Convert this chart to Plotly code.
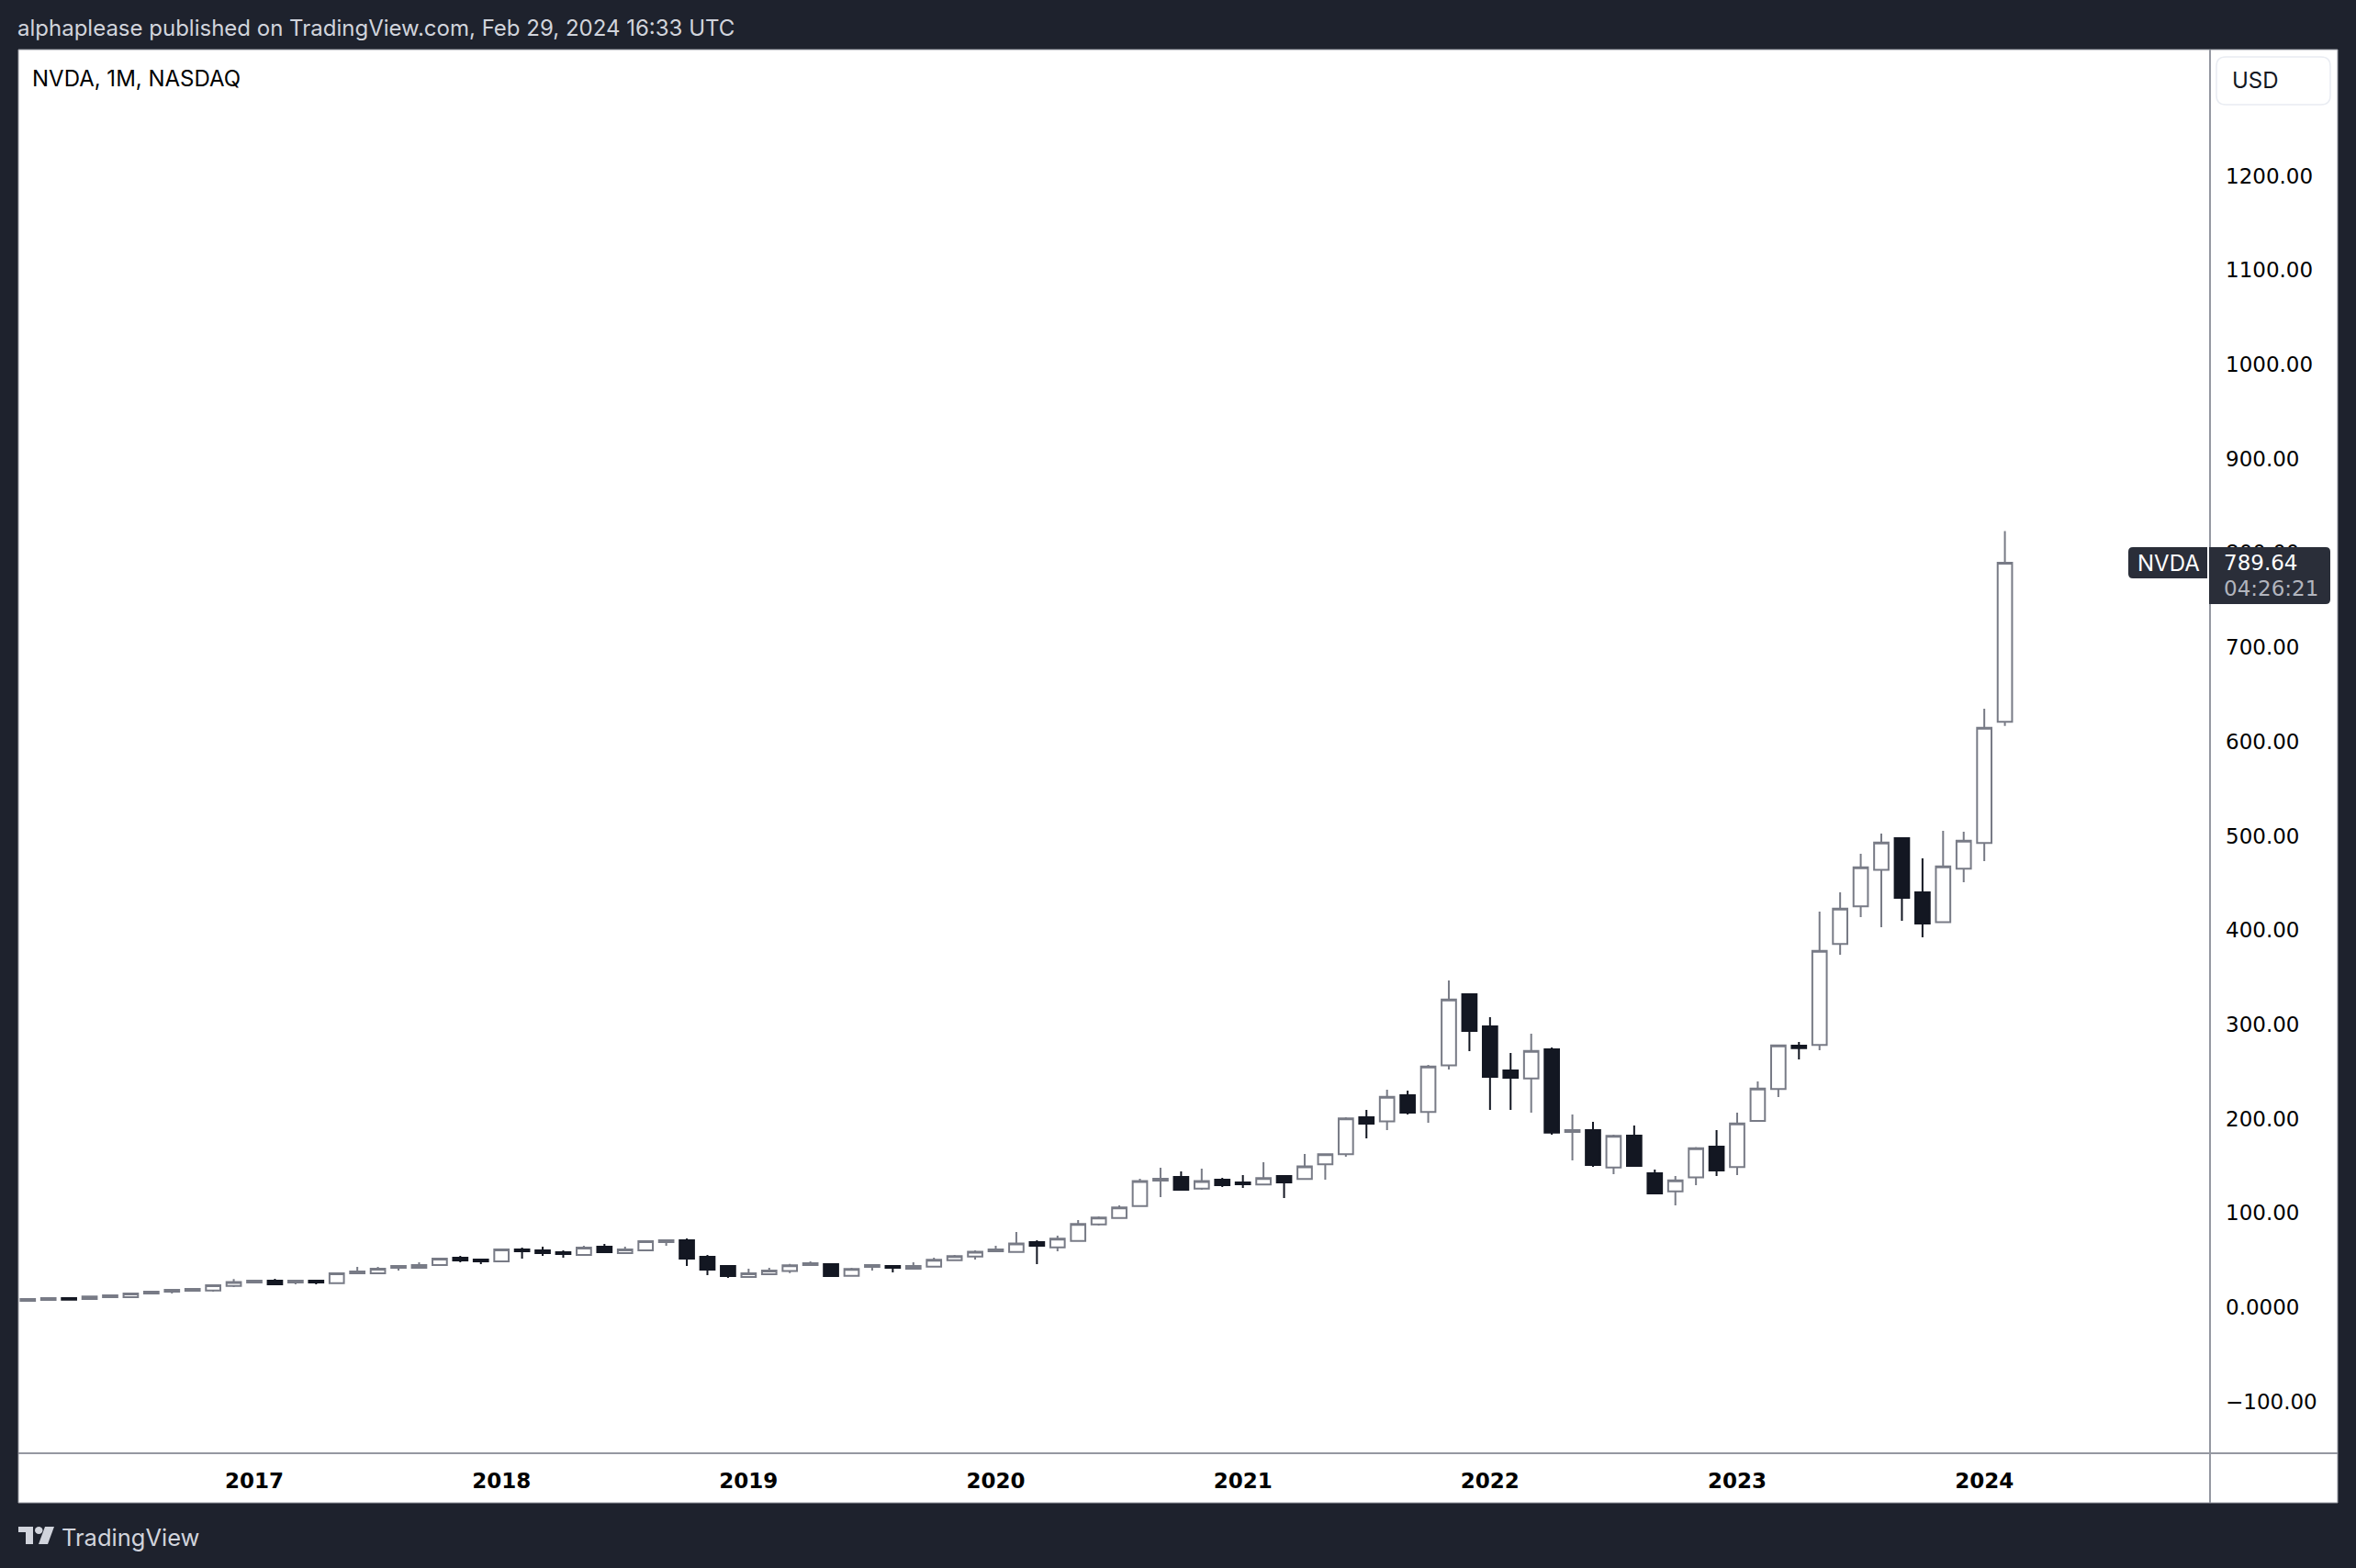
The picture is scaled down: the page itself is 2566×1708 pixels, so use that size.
import pandas as pd
import plotly.graph_objects as go

# chart is 2566x1708, everything outside the price pane is placed in pixels
W = 2566
H = 1708
BG = "#1e222d"
UP = "#787b86"
DOWN = "#131722"
LINE = "#9598a1"
TAG = "#2a2e39"

PANE_L, PANE_R, PANE_T, PANE_B = 20, 2407, 54, 1583
OUTER_R, OUTER_B = 2546, 1637

months = pd.date_range("2016-02-01", "2024-02-01", freq="MS").strftime("%Y-%m").tolist()

opens = [6.8, 7.8, 9.7, 8.8, 10.7, 10.7, 14.6, 16.6, 17.5, 17.9, 22.7, 26.3,
         28.2, 26.3, 28.2, 25.6, 36.0, 36.0, 41.9, 41.9, 44.8, 52.6, 50.6, 48.7,
         61.3, 60.4, 58.4, 55.5, 64.3, 57.4, 60.4, 69.1, 71.1, 53.6, 43.8, 32.1,
         35.0, 38.6, 44.8, 45.8, 33.4, 42.8, 43.8, 40.9, 43.2, 50.0, 53.9, 59.4,
         58.7, 69.1, 63.6, 70.4, 88.0, 94.8, 107.4, 134.4, 138.3, 125.9, 135.3, 132.4,
         130.2, 139.2, 136.0, 151.6, 162.3, 201.6, 197.3, 224.9, 207.1, 256.7, 332.0, 298.0,
         251.2, 242.8, 273.6, 186.0, 187.9, 148.3, 182.1, 142.2, 123.0, 137.9, 170.4, 148.7,
         197.7, 231.4, 277.5, 278.2, 385.3, 425.2, 464.1, 497.6, 440.1, 408.6, 465.1, 492.4,
         620.9]
highs = [8.8, 9.7, 9.7, 11.4, 12.7, 14.6, 16.6, 18.5, 19.5, 24.3, 29.9, 28.2,
         30.2, 28.2, 28.2, 37.0, 42.8, 42.8, 43.8, 47.7, 52.6, 54.5, 50.6, 62.3,
         63.3, 64.3, 60.4, 65.2, 67.2, 64.3, 71.1, 71.1, 73.0, 55.5, 43.8, 40.9,
         41.9, 46.0, 48.7, 46.7, 41.9, 44.8, 43.8, 47.7, 52.6, 55.5, 60.4, 65.2,
         79.8, 71.1, 75.9, 92.5, 96.4, 108.1, 136.3, 148.0, 144.1, 147.0, 137.3, 140.2,
         153.8, 139.2, 162.6, 162.3, 201.6, 209.4, 230.8, 229.8, 257.0, 346.6, 333.0, 307.7,
         269.7, 290.2, 275.6, 204.5, 196.7, 183.0, 192.8, 146.0, 139.2, 170.0, 187.9, 206.4,
         239.5, 277.8, 281.4, 419.7, 440.1, 481.0, 502.4, 498.5, 476.1, 505.3, 504.4, 634.9,
         823.4]
lows = [6.8, 7.8, 8.1, 8.8, 10.7, 10.7, 14.6, 14.6, 16.6, 16.6, 21.4, 25.3,
        24.3, 24.3, 24.3, 25.6, 36.0, 35.0, 38.9, 40.9, 44.8, 47.7, 45.8, 48.7,
        51.6, 54.5, 52.6, 55.5, 58.4, 57.4, 60.4, 65.2, 43.8, 34.1, 31.2, 32.1,
        35.0, 36.4, 43.8, 33.1, 33.4, 38.9, 37.0, 40.9, 43.2, 50.0, 50.6, 58.4,
        58.7, 45.8, 59.4, 70.4, 86.7, 94.8, 107.4, 116.8, 123.7, 124.6, 127.6, 126.6,
        130.2, 115.9, 136.0, 135.3, 159.7, 179.2, 187.9, 204.5, 195.7, 252.2, 271.7, 209.3,
        209.3, 206.4, 183.1, 155.8, 149.0, 141.2, 150.0, 119.8, 108.1, 129.5, 139.2, 140.2,
        197.7, 223.0, 262.9, 272.6, 373.9, 413.8, 403.1, 409.9, 392.4, 408.6, 450.8, 473.2,
        616.7]
closes = [8.8, 9.7, 8.1, 11.4, 12.7, 14.6, 16.6, 18.5, 19.5, 23.4, 26.9, 28.2,
          24.3, 28.2, 26.3, 36.0, 38.0, 40.9, 43.8, 44.8, 51.6, 49.7, 48.7, 61.3,
          59.4, 57.4, 56.5, 63.3, 58.4, 61.3, 70.1, 71.1, 51.6, 39.9, 33.1, 36.0,
          38.9, 44.5, 46.7, 33.1, 40.6, 44.8, 41.9, 43.8, 50.3, 54.2, 59.0, 61.3,
          67.8, 65.2, 72.7, 88.3, 95.1, 105.8, 134.0, 136.3, 124.6, 134.0, 129.5, 130.5,
          137.0, 132.4, 149.6, 162.3, 200.3, 194.7, 223.3, 206.4, 255.4, 326.5, 293.1, 244.4,
          243.4, 272.0, 185.3, 188.0, 150.9, 181.8, 150.0, 120.7, 134.7, 168.8, 145.1, 195.0,
          232.0, 277.8, 274.9, 378.1, 422.9, 466.7, 493.0, 434.3, 407.0, 467.7, 495.0, 614.7,
          789.64]

year_ticks = ["2017-01", "2018-01", "2019-01", "2020-01", "2021-01", "2022-01", "2023-01", "2024-01"]
year_labels = ["2017", "2018", "2019", "2020", "2021", "2022", "2023", "2024"]
price_ticks = [-100, 0, 100, 200, 300, 400, 500, 600, 700, 800, 900, 1000, 1100, 1200]
price_labels = ["\u2212100.00", "0.0000", "100.00", "200.00", "300.00", "400.00", "500.00",
                "600.00", "700.00", "800.00", "900.00", "1000.00", "1100.00", "1200.00"]


def px(x):
    return x / W


def py(y):
    return 1 - y / H


def rect(x0, y0, x1, y1, fill, line=None, width=0, layer="above"):
    return dict(type="rect", xref="paper", yref="paper", x0=px(x0), x1=px(x1), y0=py(y0), y1=py(y1),
                fillcolor=fill, line=dict(color=line or fill, width=width), layer=layer)


def rounded(x0, y0, x1, y1, rl, rr, fill, line=None, width=0):
    # plotly has no rounded rect, so draw the outline as a path (rl = left corners, rr = right corners)
    pts = [
        f"M {px(x0 + rl)} {py(y0)}",
        f"L {px(x1 - rr)} {py(y0)}",
        f"Q {px(x1)} {py(y0)} {px(x1)} {py(y0 + rr)}",
        f"L {px(x1)} {py(y1 - rr)}",
        f"Q {px(x1)} {py(y1)} {px(x1 - rr)} {py(y1)}",
        f"L {px(x0 + rl)} {py(y1)}",
        f"Q {px(x0)} {py(y1)} {px(x0)} {py(y1 - rl)}",
        f"L {px(x0)} {py(y0 + rl)}",
        f"Q {px(x0)} {py(y0)} {px(x0 + rl)} {py(y0)} Z",
    ]
    return dict(type="path", xref="paper", yref="paper", path=" ".join(pts), fillcolor=fill,
                line=dict(color=line or fill, width=width), layer="above")


def poly(points, fill):
    d = "M " + " L ".join(f"{px(x)} {py(y)}" for x, y in points) + " Z"
    return dict(type="path", xref="paper", yref="paper", path=d, fillcolor=fill,
                line=dict(color=fill, width=0), layer="above")


def label(x, y, text, size, color, family="Inter"):
    return dict(xref="paper", yref="paper", x=px(x), y=py(y), text=text, showarrow=False,
                xanchor="left", yanchor="middle", borderpad=0,
                font=dict(family=family, size=size, color=color))


fig = go.Figure(go.Candlestick(
    x=months, open=opens, high=highs, low=lows, close=closes,
    increasing=dict(line=dict(color=UP, width=2), fillcolor="#ffffff"),
    decreasing=dict(line=dict(color=DOWN, width=2), fillcolor=DOWN),
    whiskerwidth=0,
    hoverinfo="skip",
))

shapes = [
    rect(PANE_L, PANE_T, OUTER_R, OUTER_B, "#ffffff", LINE, 1, layer="below"),
    rect(PANE_R - 1, PANE_T, PANE_R + 1, OUTER_B, LINE),
    rect(PANE_L, PANE_B - 1, OUTER_R, PANE_B + 1, LINE),
    rounded(2414, 62, 2538, 114, 10, 10, "#ffffff", "#e9ecf2", 1.5),
    rounded(2318, 596, 2404, 630, 5, 0, TAG),
    rounded(2406, 596, 2538, 658, 0, 5, TAG),
    # TradingView logo
    poly([(20, 1663), (36, 1663), (36, 1682), (28, 1682), (28, 1669), (20, 1669)], "#d1d4dc"),
    dict(type="circle", xref="paper", yref="paper", x0=px(38), x1=px(46.5), y0=py(1663), y1=py(1671),
         fillcolor="#d1d4dc", line=dict(width=0), layer="above"),
    poly([(49, 1663), (59, 1663), (52, 1682), (42, 1682)], "#d1d4dc"),
]

annotations = [
    label(18, 31, "alphaplease published on TradingView.com, Feb 29, 2024 16:33 UTC", 24, "#d1d4dc"),
    label(34, 85, "NVDA, 1M, NASDAQ", 24, "#000000"),
    label(2430, 87, "USD", 24, DOWN),
    label(2327, 613, "NVDA", 24, "#ffffff"),
    label(2421, 613, "789.64", 23, "#ffffff", "DejaVu Sans"),
    label(2421, 641, "04:26:21", 23, "#b2b5be", "DejaVu Sans"),
    label(66, 1674, "TradingView", 25.5, "#d1d4dc"),
]

fig.update_layout(
    width=W,
    height=H,
    margin=dict(l=0, r=0, t=0, b=0),
    paper_bgcolor=BG,
    plot_bgcolor="#ffffff",
    showlegend=False,
    boxgap=0.3,
    boxgroupgap=0,
    shapes=shapes,
    annotations=annotations,
    xaxis=dict(
        domain=[px(PANE_L), px(PANE_R)],
        type="category",
        range=[-0.458, 105.96],
        rangeslider=dict(visible=False),
        tickmode="array",
        tickvals=year_ticks,
        ticktext=year_labels,
        ticks="",
        ticklabelstandoff=14,
        tickfont=dict(family="DejaVu Sans", size=23, color="#000000", weight=700),
        showgrid=False,
        zeroline=False,
        showline=False,
    ),
    yaxis=dict(
        domain=[py(PANE_B), py(PANE_T)],
        side="right",
        range=[-154.8, 1334],
        tickmode="array",
        tickvals=price_ticks,
        ticktext=price_labels,
        ticks="",
        ticklabelstandoff=16,
        tickfont=dict(family="DejaVu Sans", size=23, color="#000000"),
        showgrid=False,
        zeroline=False,
        showline=False,
    ),
)

fig.write_html("out.html", config=dict(displayModeBar=False),
               post_script="document.body.style.margin='0';")
